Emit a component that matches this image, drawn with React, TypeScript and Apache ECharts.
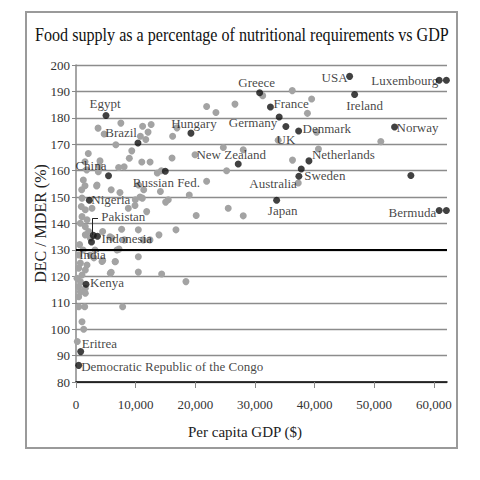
import React, { useEffect, useRef } from "react";
import * as echarts from "echarts";

const titleText = "Food supply as a percentage of nutritional requirements vs GDP";
const xAxisTitle = "Per capita GDP ($)";
const yAxisTitle = "DEC / MDER (%)";

const xTickValues = [0, 10000, 20000, 30000, 40000, 50000, 60000];

// Highlighted (black) countries
const labeledNames = [
  "Egypt", "Brazil", "China", "Russian Fed.", "Hungary", "New Zealand", "Greece", "France",
  "Germany", "UK", "Denmark", "USA", "Ireland", "Luxembourg", "Norway", "Netherlands",
  "Sweden", "Australia", "Japan", "Bermuda", "Nigeria", "Pakistan", "Indonesia", "India",
  "Kenya", "Eritrea", "Democratic Republic of the Congo",
];
const labeledGdp = [
  5030, 10390, 5450, 14970, 19270, 27200, 30790, 32600,
  34070, 35190, 37320, 45870, 46710, 60890, 53410, 39050,
  37760, 37370, 33640, 60890, 2230, 2900, 3600, 2600,
  1680, 790, 450,
];
const labeledDec = [
  180.9, 170.5, 158.1, 159.8, 174.2, 162.5, 189.5, 184.1,
  180.3, 176.7, 175, 195.7, 188.8, 194.2, 176.5, 163.7,
  160.6, 157.9, 148.8, 144.9, 148.8, 135.5, 135.2, 133,
  117, 91.5, 86.3,
];

// Unlabelled black points
const extraBlackGdp = [62100, 62100, 56140];
const extraBlackDec = [194.2, 144.9, 158.2];

// All other countries (grey)
const greyPoints: [number, number][] = [
  [26650, 185.2], [31300, 188.4], [36260, 190.3], [39500, 187.1], [38800, 181.7], [40340, 174.6],
  [33900, 171.5], [51100, 171], [24700, 168.8], [28040, 167.9], [36300, 164], [40650, 168.2],
  [25250, 160], [37260, 155.3], [21900, 184.3], [23460, 182], [19950, 166], [21900, 156],
  [18990, 150.8], [20150, 143], [25520, 145.8], [28040, 142.9], [16930, 176.2], [16200, 173],
  [16100, 164.8], [15470, 149], [15030, 148.1], [14150, 152.1], [13630, 159.1], [14300, 160],
  [16760, 137.6], [13910, 135.7], [12400, 133.8], [11280, 133.8], [18430, 118], [14360, 120.9],
  [10450, 127.4], [10450, 121.6], [7820, 108.5], [7210, 130.3], [6560, 125.5], [8100, 133.8],
  [7650, 137.8], [10450, 137.6], [5700, 135], [4470, 137], [4470, 126], [5900, 121.5],
  [3180, 130], [6030, 134.5],
  [3700, 176.1], [4720, 173.9], [7520, 178], [6680, 169.8], [11170, 176.8], [12600, 177.5],
  [12080, 174.6], [10800, 173], [11700, 171.8], [9350, 167.5], [8940, 164.7], [11030, 163.3],
  [12420, 163.3], [8070, 161.5], [7150, 161.2], [2060, 166.5], [1510, 163.4], [4020, 163.7],
  [3910, 161.8], [3740, 159.6], [1790, 160.3], [1230, 156.5], [1510, 154.3], [3460, 154.2],
  [5900, 152.8], [950, 152.8], [10730, 150], [7370, 151.7], [11120, 149.6], [9890, 146.8],
  [8770, 145.8], [11850, 144.5], [3520, 154.6], [10500, 154.6], [11350, 152.8], [9940, 149],
  [1010, 149.6], [890, 146.4], [1560, 145.2], [2680, 145.8], [1010, 142.6], [1840, 141.4],
  [730, 140.1], [1560, 138.8], [2120, 137], [1560, 135.7], [2400, 134.5],
  [450, 128.1], [730, 125], [1840, 124.3], [450, 123.1], [1560, 122.4], [1010, 120.5],
  [170, 119.3], [730, 118], [450, 116.1], [1560, 115.5], [730, 114.2], [450, 112.3],
  [1560, 113.6], [450, 108.5], [1460, 108.5], [1010, 102.8], [1290, 100], [220, 95.3],
  [4360, 125.6], [6590, 125.6], [5750, 121.2], [6870, 130], [2400, 128], [3000, 127],
  [600, 132], [1200, 130],
];

// Label placement: [align, dx, dy] relative to the point
const labelPlacement: Record<string, [string, number, number]> = {
  "Egypt": ["center", -1, -12],
  "Brazil": ["right", -1, -10],
  "China": ["right", -2, -10],
  "Russian Fed.": ["center", 1, 11],
  "Hungary": ["center", 3, -10],
  "New Zealand": ["center", -7, -10],
  "Greece": ["center", -3, -10],
  "France": ["left", 3, -4],
  "Germany": ["right", -2, 5],
  "UK": ["center", 0, 12.5],
  "Denmark": ["left", 4, -3],
  "USA": ["right", -2, 1.5],
  "Ireland": ["center", 10, 11],
  "Luxembourg": ["right", -1, 0],
  "Norway": ["left", 2, 0],
  "Netherlands": ["left", 3, -6],
  "Sweden": ["left", 3, 6],
  "Australia": ["right", -2, 7],
  "Japan": ["center", 6, 10],
  "Bermuda": ["right", -3, 1.5],
  "Nigeria": ["left", 2, -1],
  "Pakistan": ["left", 8, -19],
  "Indonesia": ["left", 4, 2],
  "India": ["center", 1, 13],
  "Kenya": ["left", 4, -2],
  "Eritrea": ["left", 1, -8.5],
  "Democratic Republic of the Congo": ["left", 2.5, 1],
};

const SERIF = "'Liberation Serif', 'DejaVu Serif', serif";

export default function App() {
  const ref = useRef<HTMLDivElement>(null);

  useEffect(() => {
    if (!ref.current) return;
    const chart = echarts.init(ref.current, undefined, { renderer: "svg" });
    const half = 3.5;

    const blackData = labeledNames.map((n, i) => {
      const [align, dx, dy] = labelPlacement[n];
      return {
        name: n,
        value: [labeledGdp[i], labeledDec[i]],
        label: {
          show: true,
          formatter: n,
          position: [half + dx, half + dy],
          align,
          verticalAlign: "middle",
        },
      };
    });
    extraBlackGdp.forEach((g, i) => {
      blackData.push({ name: "", value: [g, extraBlackDec[i]], label: { show: false } } as any);
    });

    chart.setOption({
      animation: false,
      backgroundColor: "#ffffff",
      graphic: [
        {
          type: "rect",
          shape: { x: 26, y: 12, width: 431, height: 436 },
          style: { fill: "none", stroke: "#9a9a9a", lineWidth: 2 },
          silent: true,
        },
        {
          type: "text",
          x: 35,
          y: 35,
          scaleX: 0.895,
          style: {
            text: titleText,
            font: `18px ${SERIF}`,
            fill: "#111",
            verticalAlign: "middle",
          },
        },
        {
          type: "text",
          x: 245,
          y: 432,
          style: {
            text: xAxisTitle,
            font: `15px ${SERIF}`,
            fill: "#222",
            align: "center",
            verticalAlign: "middle",
          },
        },
      ],
      grid: { left: 76, right: 33, top: 65, bottom: 98, containLabel: false },
      xAxis: {
        type: "value",
        min: 0,
        max: 62200,
        interval: 10000,
        splitLine: { show: false },
        axisLine: { show: true, lineStyle: { color: "#000", width: 1.5 } },
        axisTick: {
          show: true,
          length: 6,
          lineStyle: { color: "#888", width: 1 },
          customValues: xTickValues,
        },
        axisLabel: {
          margin: 16,
          fontFamily: SERIF,
          fontSize: 13,
          color: "#333",
          customValues: xTickValues,
          formatter: (v: number) => v.toLocaleString("en-US"),
        },
      },
      yAxis: {
        type: "value",
        min: 80,
        max: 200,
        interval: 10,
        name: yAxisTitle,
        nameLocation: "middle",
        nameGap: 28,
        nameMoveOverlap: false,
        nameTextStyle: { fontFamily: SERIF, fontSize: 16, color: "#222" },
        axisLine: { show: true, lineStyle: { color: "#888", width: 1.5 } },
        axisTick: { show: true, length: 4, lineStyle: { color: "#888" } },
        axisLabel: { margin: 6, fontFamily: SERIF, fontSize: 13, color: "#333" },
        splitLine: { show: true, lineStyle: { color: "#8c8c8c", width: 1.3 } },
      },
      series: [
        {
          type: "scatter",
          symbolSize: 7,
          itemStyle: { color: "#a3a3a3", opacity: 1 },
          data: greyPoints,
          silent: true,
          markLine: {
            silent: true,
            symbol: "none",
            label: { show: false },
            lineStyle: { color: "#000", width: 2, type: "solid" },
            data: [{ yAxis: 130 }],
          },
          z: 2,
        },
        {
          type: "scatter",
          symbolSize: 7,
          itemStyle: { color: "#111" },
          label: { fontFamily: SERIF, fontSize: 13, color: "#111" },
          data: blackData,
          markLine: {
            silent: true,
            symbol: "none",
            label: { show: false },
            lineStyle: { color: "#222", width: 1, type: "solid" },
            data: [
              [{ coord: [2800, 135.6] }, { coord: [2800, 142] }],
              [{ coord: [2800, 142] }, { coord: [3690, 142] }],
            ],
          },
          z: 3,
        },
      ],
    });
    return () => chart.dispose();
  }, []);

  return (
    <div
      ref={ref}
      style={{ position: "fixed", left: 0, top: 0, width: 480, height: 480, background: "#fff" }}
    />
  );
}
